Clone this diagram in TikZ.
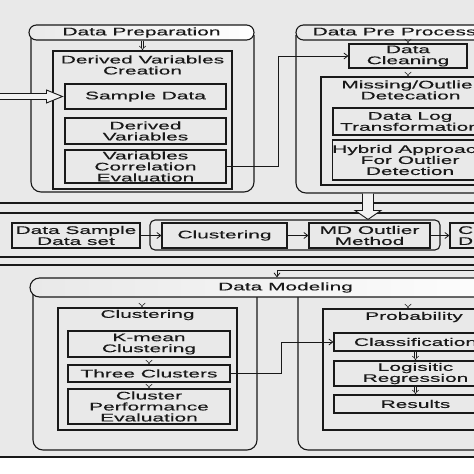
\documentclass[tikz,border=0pt]{standalone}
\usepackage{fontspec}
\newfontfamily\dfont{Liberation Sans}[FakeStretch=1.9,FakeBold=0.3]
\usetikzlibrary{arrows.meta,calc}
\definecolor{bgc}{RGB}{233,233,233}
\definecolor{lnc}{RGB}{25,25,25}
\begin{document}
\begin{tikzpicture}[x=1pt,y=-1pt,
  every node/.style={font=\dfont\fontsize{11}{11}\selectfont, text=lnc, align=center, inner sep=0pt},
  ln/.style={draw=lnc, line width=1.1pt},
  box/.style={ln, fill=bgc, rectangle},
  framebox/.style={ln, fill=bgc, rectangle},
  hdr/.style={ln, left color=bgc, right color=white, rounded corners=7.5pt},
  grpbox/.style={ln, fill=bgc, rounded corners=5pt},
  dbl/.style={draw=lnc, line width=0.55pt, double=bgc, double distance=1.8pt, -{Implies[length=2.5pt]}},
  arr/.style={draw=lnc, line width=0.8pt, -{Straight Barb[length=4pt,width=6pt]}},
  hollow/.style={draw=lnc, line width=0.9pt, fill=bgc!60!white, line join=miter}]
\useasboundingbox (0,0) rectangle (474,474);
\clip (0,0) rectangle (474,474);
\fill[bgc] (0,0) rectangle (474,457);
\fill[white] (0,457) rectangle (474,474);
% band frames
\draw[ln] (-5,203) -- (480,203);
\draw[ln] (-5,213) rectangle (480,257);
\draw[ln] (-5,265) rectangle (480,457);
% top cylinders
\draw[ln, rounded corners=10pt] (31,35) -- (31,192) -- (254,192) -- (254,35);
\node[hdr, minimum width=225, minimum height=15] (hA) at (141.5,32.5) {Data Preparation};
\draw[ln, rounded corners=10pt] (490,193) -- (296,193) -- (296,35);
\node[hdr, minimum width=225, minimum height=15] (hB) at (408.5,32.5) {Data Pre Processing};
% Data Preparation content
\node[framebox, minimum width=179, minimum height=138] (dvc) at (142.5,120) {};
\node (dvcl) at (142.5,65) {Derived Variables\\Creation};
\node[box, minimum width=161, minimum height=25] (sd) at (145.5,96.5) {Sample Data};
\node[box, minimum width=161, minimum height=26] (dv) at (145.5,131) {Derived\\Variables};
\node[box, minimum width=161, minimum height=33] (vce) at (145.5,166.5) {Variables\\Correlation\\Evaluation};
% Data Pre Processing content
\node[box, minimum width=118, minimum height=24] (dc) at (408,56) {Data\\Cleaning};
\node[framebox, minimum width=179, minimum height=108] (mod) at (410.5,131) {};
\node (modl) at (410.5,90) {Missing/Outlier\\Detecation};
\node[box, minimum width=154, minimum height=27] (dlt) at (410,121.5) {Data Log\\Transformation};
\node[box, minimum width=154, minimum height=40] (hao) at (410,160) {Hybrid Approach\\For Outlier\\Detection};
% middle band
\node[grpbox, minimum width=290, minimum height=30] (grp) at (295,235) {};
\node[box, minimum width=128, minimum height=25] (ds) at (76,235.5) {Data Sample\\Data set};
\node[box, minimum width=125, minimum height=25] (cl) at (224.5,235.5) {Clustering};
\node[box, minimum width=121, minimum height=25] (md) at (369.5,235.5) {MD Outlier\\Method};
\node[box, minimum width=94, minimum height=25] (cd) at (497,235.5) {Cleaned\\Data set};
% bottom cylinders
\draw[ln, rounded corners=10pt] (33,290) -- (33,450) -- (257,450) -- (257,290);
\draw[ln, rounded corners=10pt] (490,450) -- (298,450) -- (298,290);
\node[hdr, rounded corners=9.5pt, minimum width=511, minimum height=19] (hM) at (285.5,287.5) {Data Modeling};
\node[framebox, minimum width=179, minimum height=122] (clf) at (147.5,369) {};
\node (clfl) at (147.5,315) {Clustering};
\node[box, minimum width=162, minimum height=26] (km) at (149,344) {K-mean\\Clustering};
\node[box, minimum width=162, minimum height=17] (tc) at (149,373.5) {Three Clusters};
\node[box, minimum width=162, minimum height=35] (cpe) at (149,406.5) {Cluster\\Performance\\Evaluation};
\node[framebox, minimum width=182, minimum height=121] (pf) at (414,369.5) {};
\node (pfl) at (414,317) {Probability};
\node[box, minimum width=163, minimum height=18] (cls) at (415.5,342) {Classification};
\node[box, minimum width=163, minimum height=25] (lr) at (415.5,373.5) {Logisitic\\Regression};
\node[box, minimum width=163, minimum height=18] (res) at (415.5,404) {Results};
% connectors
\draw[dbl] (hA.south -| dvc.north) -- (dvc.north);
\draw[dbl] (hB.south -| dc.north) -- (dc.north);
\draw[dbl] (dc.south) -- (dc.south |- mod.north);
\coordinate (lin) at (-3,96.5);
\coordinate (tipL) at ($(sd.west)+(-2,0)$);
\draw[hollow] ($(lin)+(0,-3)$) -- ($(tipL)+(-16,-3)$) -- ($(tipL)+(-16,-6.5)$) -- (tipL)
  -- ($(tipL)+(-16,6.5)$) -- ($(tipL)+(-16,3)$) -- ($(lin)+(0,3)$);
\draw[arr] (vce.east) -- ($(vce.east)+(52,0)$) |- (dc.west);
\draw[arr] (ds.east) -- (cl.west);
\draw[arr] (cl.east) -- (md.west);
\draw[arr] (md.east) -- (cd.west);
\coordinate (btop) at (368,193.5);
\coordinate (btip) at ($(btop |- md.north)+(0,-3)$);
\draw[hollow] ($(btop)+(-5.5,0)$) -- ($(btip)+(-5.5,-9)$) -- ($(btip)+(-13,-9)$) -- (btip)
  -- ($(btip)+(13,-9)$) -- ($(btip)+(5.5,-9)$) -- ($(btop)+(5.5,0)$);
\coordinate (rin) at (490,270);
\draw[arr] (rin) -| ($(hM.north)+(-8.5,0)$);
\coordinate (c1) at ($(clf.north)+(-5.5,0)$);
\draw[dbl] (c1 |- hM.south) -- (c1);
\coordinate (c2) at ($(pf.north)+(-6,0)$);
\draw[dbl] (c2 |- hM.south) -- (c2);
\draw[dbl] (km.south) -- (tc.north);
\draw[dbl] (tc.south) -- (cpe.north);
\draw[dbl] (cls.south) -- (lr.north);
\draw[dbl] (lr.south) -- (res.north);
\draw[arr] (tc.east) -- ($(tc.east)+(51,0)$) |- (cls.west);
\end{tikzpicture}
\end{document}
